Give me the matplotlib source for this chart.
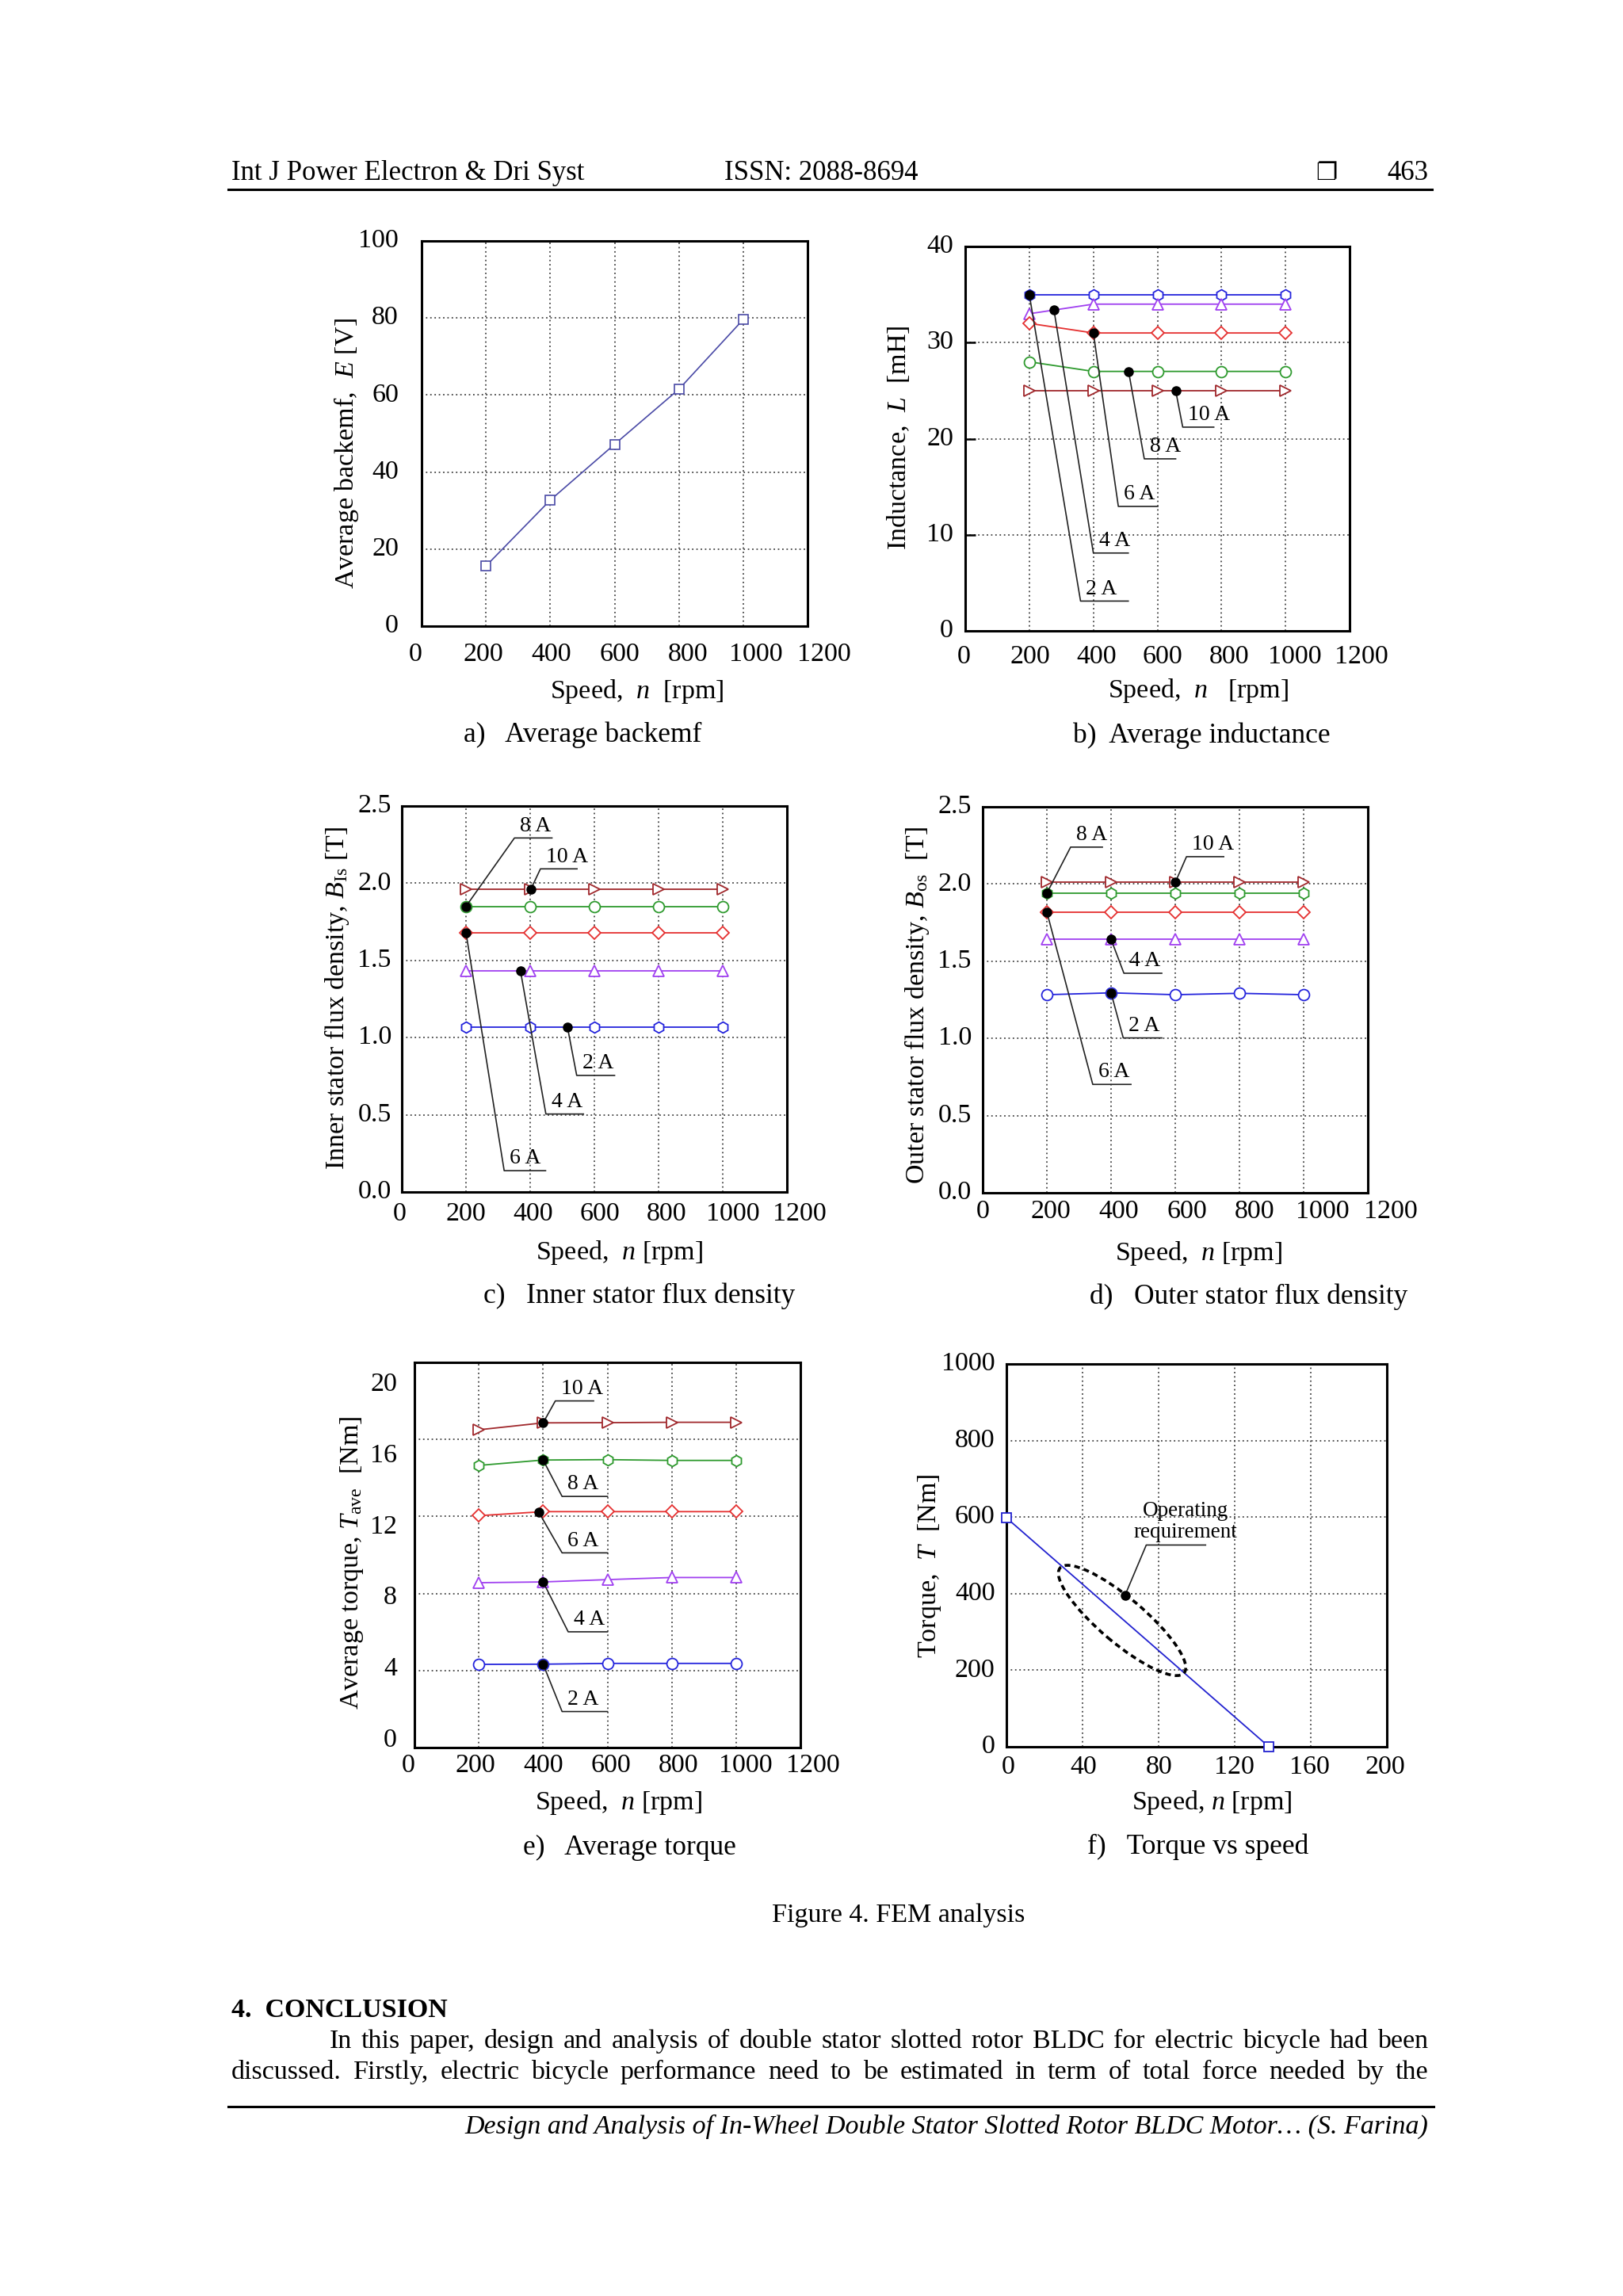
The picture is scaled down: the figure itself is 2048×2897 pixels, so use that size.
import matplotlib
matplotlib.use("Agg")
import matplotlib.pyplot as plt
import numpy as np
from matplotlib.lines import Line2D
from matplotlib.patches import Ellipse
from matplotlib.transforms import blended_transform_factory, ScaledTranslation

# ---- data ----
speed = [200, 400, 600, 800, 1000]
currents = ["2 A", "4 A", "6 A", "8 A", "10 A"]

backemf = [15.6, 32.7, 47.2, 61.5, 79.6]

inductance = [
    [35, 35, 35, 35, 35],
    [33, 34, 34, 34, 34],
    [32, 31, 31, 31, 31],
    [28, 27, 27, 27, 27],
    [25, 25, 25, 25, 25],
]
inner_flux = [
    [1.07, 1.07, 1.07, 1.07, 1.07],
    [1.43, 1.43, 1.43, 1.43, 1.43],
    [1.68, 1.68, 1.68, 1.68, 1.68],
    [1.85, 1.85, 1.85, 1.85, 1.85],
    [1.96, 1.96, 1.96, 1.96, 1.96],
]
outer_flux = [
    [1.283, 1.295, 1.283, 1.292, 1.283],
    [1.642, 1.642, 1.642, 1.642, 1.642],
    [1.818, 1.818, 1.818, 1.818, 1.818],
    [1.941, 1.941, 1.941, 1.941, 1.941],
    [2.01, 2.01, 2.01, 2.01, 2.01],
]
torque = [
    [4.32, 4.33, 4.37, 4.37, 4.37],
    [8.56, 8.60, 8.72, 8.83, 8.83],
    [12.04, 12.25, 12.25, 12.25, 12.25],
    [14.65, 14.93, 14.95, 14.91, 14.91],
    [16.50, 16.86, 16.87, 16.89, 16.89],
]

# torque vs speed line and operating point
ts_speed = [0, 138]
ts_torque = [598, 0]
op_speed, op_torque = 62.3, 395

# callouts: where the black dot sits, elbow of the leader, end of the underline
ind_dot_x = [200, 277, 400, 510, 657]
ind_elbow_x = [360, 400, 478, 559, 679]
ind_elbow_y = [3.1, 8.1, 12.95, 17.9, 21.2]
ind_end_x = [509, 509, 601, 657, 776]

in_dot_x = [516, 370, 200, 200, 402]
in_elbow_x = [545, 449, 319, 351, 432]
in_elbow_y = [0.755, 0.505, 0.138, 2.293, 2.093]
in_end_x = [663, 566, 448, 468, 546]

out_dot_x = [400, 400, 200, 200, 600]
out_elbow_x = [438, 440, 343, 274, 635]
out_elbow_y = [1.003, 1.422, 0.702, 2.239, 2.177]
out_end_x = [558, 558, 462, 373, 751]

tq_dot_x = [400, 400, 386, 400, 400]
tq_elbow_x = [459, 478, 459, 459, 438]
tq_elbow_y = [1.87, 6.01, 10.11, 13.04, 18.0]
tq_end_x = [600, 600, 600, 600, 557]

# ---- style ----
W, H = 2048, 2897
plt.rcParams["font.family"] = ["Liberation Serif", "DejaVu Sans"]
plt.rcParams["mathtext.fontset"] = "custom"
plt.rcParams["mathtext.rm"] = "Liberation Serif"
plt.rcParams["mathtext.it"] = "Liberation Serif:italic"

COLORS = ["#2424DC", "#A040F0", "#E53030", "#2E9A2E", "#A0282C"]
MARK_B = ["h", "^", "D", "o", ">"]
MARK_C = ["h", "^", "D", "o", ">"]
MARK_D = ["o", "^", "D", "h", ">"]
MARK_E = ["o", "^", "D", "h", ">"]
FS = 24.5

fig = plt.figure(figsize=(W / 100, H / 100), dpi=100)


def fx(x):
    return x / W


def fy(y):
    return 1 - y / H


def make_axes(l, t, r, b):
    return fig.add_axes([fx(l), fy(b), (r - l) / W, (b - t) / H])


def style(ax, xlim, xstep, ylim, ystep):
    ax.set_xlim(*xlim)
    ax.set_ylim(*ylim)
    ax.set_xticks(np.arange(xlim[0], xlim[1] + 0.001, xstep))
    ax.set_yticks(np.arange(ylim[0], ylim[1] + 0.001, ystep))
    ax.grid(True, ls=(0, (1, 2)), color="#444444", lw=1.3)
    ax.tick_params(length=0, labelbottom=False, labelleft=False)
    for s in ax.spines.values():
        s.set_linewidth(2.2)


def tick_text(ax, xfmt, xshift, xscale, xpad, yfmt, yshift, yscale, ypad):
    # the page's tick numbers are spread a little wider than the grid they label
    trx = blended_transform_factory(ax.transData, ax.transAxes) + \
        ScaledTranslation(0, -xpad / 100, fig.dpi_scale_trans)
    for v in ax.get_xticks():
        ax.text(xshift + xscale * v, 0, xfmt % v, transform=trx, ha="center",
                va="center", fontsize=FS, clip_on=False)
    try_ = blended_transform_factory(ax.transAxes, ax.transData) + \
        ScaledTranslation(-ypad / 100, 0, fig.dpi_scale_trans)
    for v in ax.get_yticks():
        ax.text(0, yshift + yscale * v, yfmt % v, transform=try_, ha="right",
                va="center", fontsize=FS, clip_on=False)


def series(ax, ys, marks):
    for y, c, m in zip(ys, COLORS, marks):
        ax.plot(speed, y, color=c, lw=1.3, marker=m, ms=10 if m != "D" else 8,
                mfc="white", mec=c, mew=1.3, clip_on=False, zorder=3)


def callouts(ax, ys, dot_x, elbow_x, elbow_y, end_x):
    dot_y = [np.interp(dx, speed, y) for dx, y in zip(dot_x, ys)]
    ax.plot(dot_x, dot_y, "o", color="black", ms=8, zorder=6, clip_on=False)
    for dx, dy, ex, ey, nx, lab in zip(dot_x, dot_y, elbow_x, elbow_y, end_x, currents):
        ax.plot([dx, ex, nx], [dy, ey, ey], color="#222222", lw=1.2, zorder=5)
        ax.annotate(lab, xy=(ex, ey), xytext=(5, 2),
                    textcoords="offset points", ha="left", va="bottom",
                    fontsize=20, zorder=7)


def labels(xlab, xpos, ylab, ypos, cap, cpos):
    fig.text(fx(xpos[0]), fy(xpos[1]), xlab, fontsize=FS, ha="center", va="center")
    fig.text(fx(ypos[0]), fy(ypos[1]), ylab, fontsize=FS, ha="center", va="center",
             rotation=90)
    fig.text(fx(cpos[0]), fy(cpos[1]), cap, fontsize=25.5, ha="left", va="center")


# a) average backemf
ax = make_axes(532, 304, 1019, 790)
style(ax, (0, 1200), 200, (0, 100), 20)
tick_text(ax, "%d", -20, 1.06, 36, "%d", 0, 1, 29)
ax.plot(speed, backemf, color="#4A4AA6", lw=1.2, marker="s", ms=8,
        mfc="white", mec="#4A4AA6", mew=1.2, zorder=3)
labels("Speed,  $n$  [rpm]", (804, 873), "Average backemf,  $E$ [V]", (437, 572),
       "a)   Average backemf", (585, 927))

# b) average inductance
ax = make_axes(1218, 311, 1703, 796)
style(ax, (0, 1200), 200, (0, 40), 10)
ax.tick_params(axis="y", direction="in", length=9, width=1.8)
tick_text(ax, "%d", -5, 1.035, 33, "%d", 0, 1, 15)
series(ax, inductance, MARK_B)
callouts(ax, inductance, ind_dot_x, ind_elbow_x, ind_elbow_y, ind_end_x)
labels("Speed,  $n$   [rpm]", (1512, 872), "Inductance,  $L$  [mH]", (1133, 552),
       "b)  Average inductance", (1354, 928))

# c) inner stator flux density
ax = make_axes(507, 1017, 993, 1504)
style(ax, (0, 1200), 200, (0, 2.5), 0.5)
tick_text(ax, "%d", -8, 1.04, 28, "%.1f", 0, 1, 13)
series(ax, inner_flux, MARK_C)
callouts(ax, inner_flux, in_dot_x, in_elbow_x, in_elbow_y, in_end_x)
labels("Speed,  $n$ [rpm]", (781, 1580),
       "Inner stator flux density, $B_{\\mathrm{Is}}$ [T]", (425, 1260),
       "c)   Inner stator flux density", (610, 1635))

# d) outer stator flux density
ax = make_axes(1240, 1018, 1726, 1505)
style(ax, (0, 1200), 200, (0, 2.5), 0.5)
tick_text(ax, "%d", 0, 1.06, 24, "%.1f", 0, 1, 14)
series(ax, outer_flux, MARK_D)
callouts(ax, outer_flux, out_dot_x, out_elbow_x, out_elbow_y, out_end_x)
labels("Speed,  $n$ [rpm]", (1512, 1581),
       "Outer stator flux density, $B_{\\mathrm{os}}$  [T]", (1157, 1268),
       "d)   Outer stator flux density", (1375, 1636))

# e) average torque
ax = make_axes(523, 1719, 1010, 2205)
style(ax, (0, 1200), 200, (0, 20), 4)
tick_text(ax, "%d", -20, 1.05, 23, "%d", 0.39, 0.923, 22)
series(ax, torque, MARK_E)
callouts(ax, torque, tq_dot_x, tq_elbow_x, tq_elbow_y, tq_end_x)
labels("Speed,  $n$ [rpm]", (780, 2275),
       "Average torque, $T_{\\mathrm{ave}}$  [Nm]", (444, 1972),
       "e)   Average torque", (660, 2331))

# f) torque vs speed
ax = make_axes(1270, 1721, 1750, 2204)
style(ax, (0, 200), 40, (0, 1000), 200)
tick_text(ax, "%d", 1, 0.99, 26, "%d", 0, 1, 14.5)
ax.plot(ts_speed, ts_torque, color="#2222D0", lw=1.3, marker="s", ms=8,
        mfc="white", mec="#2222D0", mew=1.3, clip_on=False, zorder=3)
ax.add_patch(Ellipse((0.304, 0.33), 0.426, 0.117, angle=-40, transform=ax.transAxes,
                     fill=False, ec="black", lw=2.6, ls=(0, (2, 1.4)), zorder=4))
ax.plot([op_speed], [op_torque], "o", color="black", ms=8, zorder=6)
ax.plot([op_speed, 73.5, 104.7], [op_torque, 527, 527], color="#222222", lw=1.2, zorder=5)
ax.text(94, 535, "Operating\nrequirement", fontsize=19.5, ha="center", va="bottom",
        linespacing=1.1, zorder=7)
labels("Speed, $n$ [rpm]", (1529, 2275), "Torque,  $T$  [Nm]", (1173, 1976),
       "f)   Torque vs speed", (1372, 2330))

# ---- page text ----
fig.text(fx(292), fy(227), "Int J Power Electron & Dri Syst", fontsize=25, va="baseline")
fig.text(fx(914), fy(227), "ISSN: 2088-8694", fontsize=25, va="baseline")
fig.text(fx(1660), fy(227), "\u2750", fontsize=22, va="baseline",
         family=["DejaVu Sans"], weight="bold")
fig.text(fx(1802), fy(227), "463", fontsize=25, va="baseline", ha="right")
fig.add_artist(Line2D([fx(288), fx(1807)], [fy(239), fy(239)], lw=2.2, color="black"))

fig.text(fx(1134), fy(2425), "Figure 4. FEM analysis", fontsize=24.5, va="baseline",
         ha="center")
fig.text(fx(292), fy(2545), "4.  CONCLUSION", fontsize=24.5, va="baseline",
         weight="bold")


def justify_line(text, x0, x1, y, size):
    r = fig.canvas.get_renderer()
    words = text.split()
    arts = [fig.text(0, 0, w, fontsize=size, va="baseline") for w in words]
    widths = [a.get_window_extent(r).width for a in arts]
    gap = (x1 - x0 - sum(widths)) / (len(words) - 1)
    x = x0
    for a, w in zip(arts, widths):
        a.set_position((fx(x), fy(y)))
        x += w + gap


justify_line("In this paper, design and analysis of double stator slotted rotor BLDC "
             "for electric bicycle had been", 416, 1802, 2584, 24.5)
justify_line("discussed. Firstly, electric bicycle performance need to be estimated "
             "in term of total force needed by the", 292, 1802, 2623, 24.5)

fig.add_artist(Line2D([fx(288), fx(1809)], [fy(2658), fy(2658)], lw=2.2, color="black"))
fig.text(fx(1802), fy(2692),
         "Design and Analysis of In-Wheel Double Stator Slotted Rotor BLDC Motor\u2026 (S. Farina)",
         fontsize=24.5, va="baseline", ha="right", style="italic")

fig.savefig("out.png", dpi=100, facecolor="white")
